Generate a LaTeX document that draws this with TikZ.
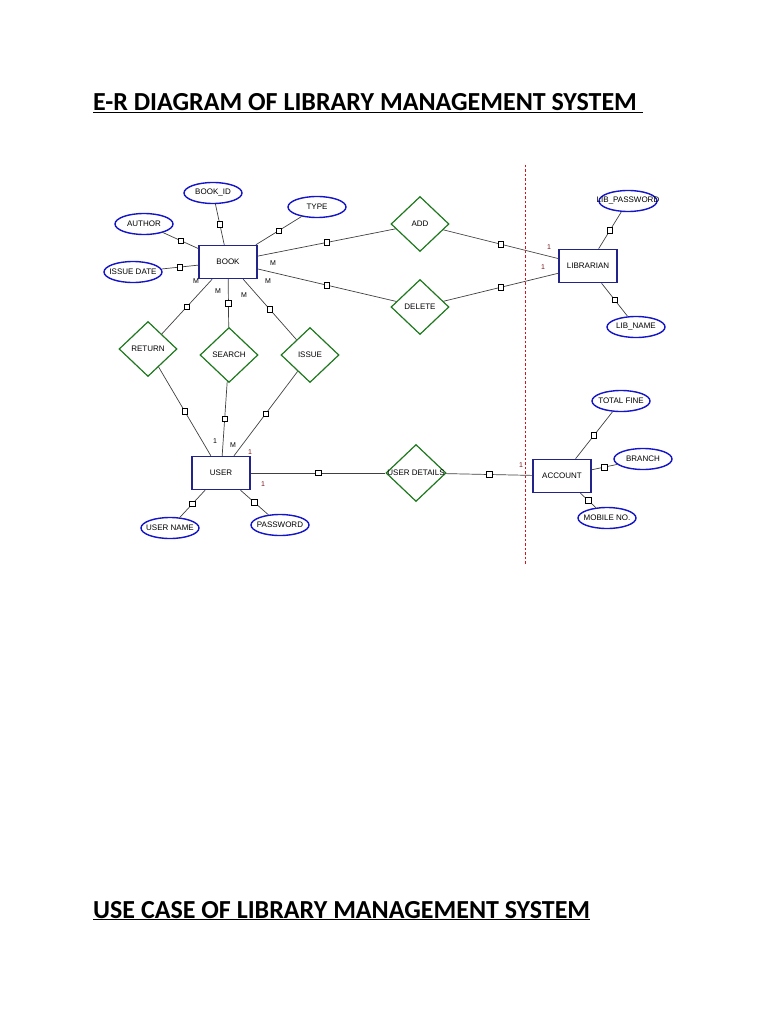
\documentclass[tikz,border=0pt]{standalone}
\usepackage{fontspec}
\setmainfont{Liberation Sans}
\newfontfamily\headfont{Carlito}
\usepackage{tikz}
\usetikzlibrary{shapes.geometric}
\definecolor{ent_blue}{RGB}{35, 35, 140}
\definecolor{att_blue}{RGB}{20, 20, 200}
\definecolor{rel_green}{RGB}{30, 120, 30}
\definecolor{card_red}{RGB}{120, 20, 20}
\definecolor{sep_red}{RGB}{210, 20, 30}

\begin{document}
\begin{tikzpicture}[x=1pt, y=-1pt, font=\fontsize{8}{9}\selectfont,
      shape box/.style={inner sep=0pt,
        execute at begin node={\hbox to 0pt\bgroup\hss},
        execute at end node={\hss\egroup}},
      entity/.style={shape box, rectangle, draw=ent_blue, line width=1.4pt,
        fill=white, minimum width=58pt, minimum height=33pt},
      attr/.style={shape box, ellipse, draw=att_blue, line width=1.4pt,
        fill=white, minimum width=58pt, minimum height=21pt},
      rel/.style={shape box, diamond, draw=rel_green, line width=1.2pt,
        fill=white, minimum width=58pt, minimum height=55pt},
      link/.style={draw=black!75, line width=0.7pt},
      sq/.style={draw=black, fill=white, line width=0.6pt, minimum size=5.5pt,
        inner sep=0pt, pos=0.5},
      card/.style={inner sep=0pt, font=\fontsize{7}{8}\selectfont},
      one/.style={card, text=card_red},
      title/.style={anchor=base west, inner sep=0pt,
        font=\headfont\bfseries\fontsize{26}{30}\selectfont}]

    \useasboundingbox (0,0) rectangle (768,1024);

    %% ---- headings -------------------------------------------------------
    \node[title] (erhead) at (93,111)
      {\underline{E-R DIAGRAM OF LIBRARY MANAGEMENT SYSTEM\ }};
    \node[title] (usehead) at (93,918)
      {\underline{USE CASE OF LIBRARY MANAGEMENT SYSTEM}};

    %% ---- border between the two sides -----------------------------------
    \coordinate (sepTop) at (525,165);
    \coordinate (sepBot) at (525,565);
    \draw[sep_red, dash pattern=on 2.5pt off 2pt, line width=1pt]
      (sepTop) -- (sepBot);

    %% ---- entities -------------------------------------------------------
    \node[entity] (book)      at (228,262) {BOOK};
    \node[entity] (user)      at (221,473) {USER};
    \node[entity] (librarian) at (588,266) {LIBRARIAN};
    \node[entity] (account)   at (562,476) {ACCOUNT};

    %% ---- relations ------------------------------------------------------
    \node[rel] (add)     at (420,224) {ADD};
    \node[rel] (delete)  at (420,307) {DELETE};
    \node[rel] (return)  at (148,349) {RETURN};
    \node[rel] (search)  at (229,355) {SEARCH};
    \node[rel] (issue)   at (310,355) {ISSUE};
    \node[rel, minimum width=60pt, minimum height=57pt] (details) at (416,473)
      {USER DETAILS};

    %% ---- attributes -----------------------------------------------------
    \node[attr] (bookid)    at (213,193) {BOOK\_ID};
    \node[attr] (type)      at (317,207) {TYPE};
    \node[attr] (author)    at (144,224) {AUTHOR};
    \node[attr] (issuedate) at (133,272) {ISSUE DATE};
    \node[attr] (libpw)     at (628,201) {LIB\_PASSWORD};
    \node[attr] (libname)   at (636,327) {LIB\_NAME};
    \node[attr] (username)  at (170,528) {USER NAME};
    \node[attr] (password)  at (280,525) {PASSWORD};
    \node[attr] (totalfine) at (621,401) {TOTAL FINE};
    \node[attr] (branch)    at (643,459) {BRANCH};
    \node[attr] (mobile)    at (607,518) {MOBILE NO.};

    %% ---- connectors -----------------------------------------------------
    \foreach \a/\b in {bookid/book, type/book, author/book, issuedate/book,
        book/add, book/delete, add/librarian, delete/librarian,
        libpw/librarian, libname/librarian,
        book/return, book/search, book/issue,
        return/user, search/user, issue/user,
        username/user, password/user,
        user/details, details/account,
        totalfine/account, branch/account, mobile/account}
      \draw[link] (\a) -- node[sq] {} (\b);

    %% ---- cardinalities --------------------------------------------------
    \node[card] (mAdd)    at (273,263) {M};
    \node[card] (mDel)    at (268,281) {M};
    \node[card] (mRet)    at (196,281) {M};
    \node[card] (mSrc)    at (218,291) {M};
    \node[card] (mIss)    at (244,295) {M};
    \node[card] (oneRet)  at (215,441) {1};
    \node[card] (mUser)   at (233,445) {M};
    \node[one]  (oneIss)  at (250,452) {1};
    \node[one]  (oneDet)  at (263,484) {1};
    \node[one]  (oneAdd)  at (549,247) {1};
    \node[one]  (oneDel)  at (543,267) {1};
    \node[one]  (oneAcc)  at (521,465) {1};
  \end{tikzpicture}
\end{document}
